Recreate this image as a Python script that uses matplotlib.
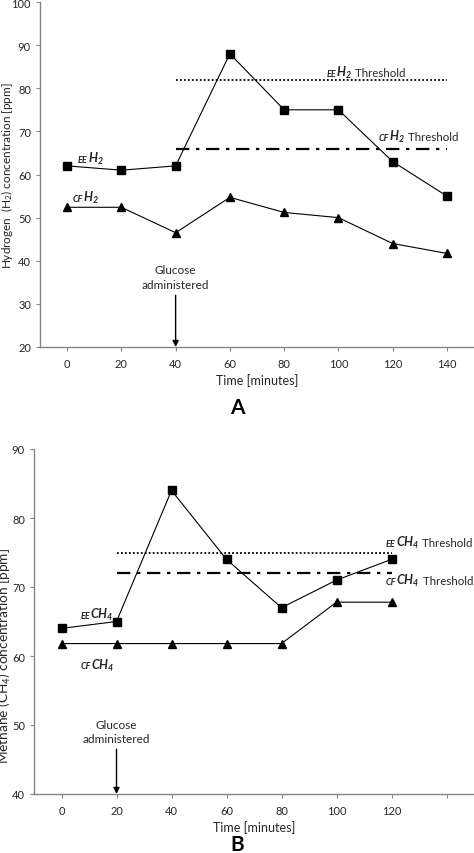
import matplotlib
matplotlib.use("Agg")
import matplotlib.pyplot as plt

plt.rcParams["font.family"] = ["Lato", "DejaVu Sans"]
plt.rcParams["mathtext.fontset"] = "custom"
plt.rcParams["mathtext.rm"] = "Lato"
plt.rcParams["mathtext.it"] = "Lato:italic"
plt.rcParams["mathtext.bf"] = "Lato:bold"
plt.rcParams["mathtext.bfit"] = "Lato:italic:bold"

# Panel A: hydrogen
time_h2 = [0, 20, 40, 60, 80, 100, 120, 140]
ee_h2 = [62, 61, 62, 88, 75, 75, 63, 55]
cf_h2 = [52.4, 52.4, 46.5, 54.7, 51.2, 50.0, 44.0, 41.7]
ee_h2_threshold = 82
cf_h2_threshold = 66
threshold_span_h2 = [40, 140]
glucose_time_h2 = 40

# Panel B: methane
time_ch4 = [0, 20, 40, 60, 80, 100, 120]
ee_ch4 = [64, 65, 84, 74, 67, 71, 74]
cf_ch4 = [61.8, 61.8, 61.8, 61.8, 61.8, 67.8, 67.8]
ee_ch4_threshold = 75
cf_ch4_threshold = 72
threshold_span_ch4 = [20, 120]
glucose_time_ch4 = 20

AXIS_GRAY = "#858585"
TEXT = "#262626"


def style_axes(ax, yticks, xticks, xlabels):
    for side in ("top", "right"):
        ax.spines[side].set_visible(False)
    for side in ("left", "bottom"):
        ax.spines[side].set_color(AXIS_GRAY)
        ax.spines[side].set_linewidth(1.0)
    ax.set_xlim(-10, 150)
    ax.set_yticks(yticks)
    ax.set_xticks(xticks)
    ax.set_xticklabels(xlabels)
    ax.tick_params(axis="both", direction="out", length=3, width=0.8,
                   color=AXIS_GRAY, labelsize=8, labelcolor=TEXT)
    ax.tick_params(axis="x", pad=5)
    ax.set_xlabel("Time [minutes]", fontsize=9, color=TEXT, labelpad=3)


def series_label(ax, x, y, small, big, sub, suffix=""):
    # small-caps prefix, then bold italic formula on the same baseline
    t1 = ax.text(x, y, small, fontsize=6.5, fontweight="bold",
                 fontstyle="italic", color=TEXT, va="baseline", ha="left")
    t2 = ax.annotate(r"$\mathbfit{%s_{%s}}$" % (big, sub), xy=(1, y),
                     xycoords=(t1, "data"), va="baseline", ha="left",
                     fontsize=9, color=TEXT)
    if suffix:
        ax.annotate(suffix, xy=(1, y), xycoords=(t2, "data"), va="baseline",
                    ha="left", fontsize=8.3, color=TEXT)


def draw_panel(ax, t, ee, cf, ee_thr, cf_thr, span, glucose, text_y, arrow_top):
    ax.plot(t, ee, color="black", lw=0.8, marker="s", ms=6, zorder=3)
    ax.plot(t, cf, color="black", lw=0.8, marker="^", ms=6, zorder=3)
    ax.plot(span, [ee_thr, ee_thr], color="black", lw=1.3, linestyle=(0, (1, 1.2)))
    ax.plot(span, [cf_thr, cf_thr], color="black", lw=1.6,
            linestyle=(0, (6, 3, 1.5, 3)))
    ax.text(glucose, text_y, "Glucose\nadministered", ha="center", va="bottom",
            fontsize=8.5, color=TEXT, linespacing=1.35)
    ax.annotate("", xy=(glucose, ax.get_ylim()[0]), xytext=(glucose, arrow_top),
                arrowprops=dict(arrowstyle="-|>", color="black", lw=1.0,
                                shrinkA=0, shrinkB=0, mutation_scale=9))


fig = plt.figure(figsize=(4.74, 8.54), dpi=100)

# ---- Panel A
ax1 = fig.add_axes([40 / 474, 506 / 854, 434 / 474, 345 / 854])
ax1.set_ylim(20, 100)
draw_panel(ax1, time_h2, ee_h2, cf_h2, ee_h2_threshold, cf_h2_threshold,
           threshold_span_h2, glucose_time_h2, 33.3, 32)
style_axes(ax1, range(20, 101, 10), time_h2, [str(v) for v in time_h2])
ax1.set_ylabel("Hydrogen  (H$_2$) concentration [ppm]", fontsize=8.5, color=TEXT)
ax1.yaxis.set_label_coords(-25 / 434, 0.5)
series_label(ax1, 4, 63.0, "EE", "H", "2")
series_label(ax1, 2, 53.9, "CF", "H", "2")
series_label(ax1, 95.5, 82.9, "EE", "H", "2", " Threshold")
series_label(ax1, 115, 68.1, "CF", "H", "2", " Threshold")
fig.text(0.5, 1 - 408 / 854, "A", ha="center", va="center",
         fontsize=15, fontweight="bold", color="black")

# ---- Panel B
ax2 = fig.add_axes([34 / 474, 59 / 854, 440 / 474, 345 / 854])
ax2.set_ylim(40, 90)
draw_panel(ax2, time_ch4, ee_ch4, cf_ch4, ee_ch4_threshold, cf_ch4_threshold,
           threshold_span_ch4, glucose_time_ch4, 47.2, 46.5)
style_axes(ax2, range(40, 91, 10), time_ch4 + [140],
           [str(v) for v in time_ch4] + [""])
ax2.set_ylabel("Methane (CH$_4$) concentration [ppm]", fontsize=9.8, color=TEXT)
ax2.yaxis.set_label_coords(-20.5 / 440, 0.403)
series_label(ax2, 7, 65.5, "EE", "CH", "4")
series_label(ax2, 7, 58.2, "CF", "CH", "4")
series_label(ax2, 118, 76.0, "EE", "CH", "4", " Threshold")
series_label(ax2, 118, 70.4, "CF", "CH", "4", " Threshold")
fig.text(0.5, 1 - 845 / 854, "B", ha="center", va="center",
         fontsize=15, fontweight="bold", color="black")

fig.savefig("out.png", dpi=100)
